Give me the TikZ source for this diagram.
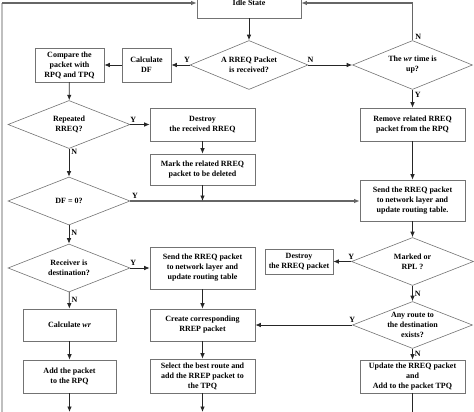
\documentclass[tikz,border=0pt]{standalone}
\usepackage{fontspec}
\setmainfont{Liberation Serif}
\usetikzlibrary{arrows.meta,shapes.geometric}

\begin{document}
\begin{tikzpicture}[x=1pt,y=-1pt,>={Latex[length=5.5pt,width=4.5pt]},
  every node/.style={font=\bfseries\fontsize{8}{10}\selectfont,align=center},
  box/.style={draw=black!55,line width=0.6pt,inner sep=1pt,minimum width=105pt,minimum height=33pt},
  dec/.style={draw=black!55,line width=0.6pt,diamond,inner sep=0pt,minimum width=122pt,minimum height=48pt},
  arr/.style={->,line width=0.8pt,black!85},
  feed/.style={line width=1.8pt,black!60},
  yn/.style={inner sep=2pt,text=black}]
  \useasboundingbox (0,0) rectangle (474,412);
  % left column
  \node[box,minimum width=69pt,minimum height=34pt] (comp) at (69.5,65) {Compare the\\packet with\\RPQ and TPQ};
  \node[dec] (rep) at (69,124.5) {};
  \node (rept) at (rep) {Repeated\\RREQ?};
  \node[dec] (dfz) at (69,201) {};
  \node (dfzt) at (dfz) {DF = 0?};
  \node[dec] (recv) at (69,268) {};
  \node (recvt) at (recv) {Receiver is\\destination?};
  \node[box,minimum width=93pt,minimum height=32pt] (calcwr) at (69.5,325) {Calculate \textit{wr}};
  \node[box,minimum width=93pt,minimum height=33pt] (addrpq) at (69.5,376.5) {Add the packet\\to the RPQ};
  % middle column
  \node[box,minimum width=104pt,minimum height=30pt] (idle) at (249,3) {Idle State};
  \node[dec,minimum width=118pt,minimum height=49pt] (dec1) at (249,65) {};
  \node (dec1t) at (dec1) {A RREQ Packet\\is received?};
  \node[box,minimum width=49pt,minimum height=34pt] (calcdf) at (146.5,65) {Calculate\\DF};
  \node[box] (destr) at (202.5,124.5) {Destroy\\the received RREQ};
  \node[box,minimum height=31pt] (mark) at (202.5,169.5) {Mark the related RREQ\\packet to be deleted};
  \node[box,minimum height=42pt] (sendl) at (202.5,268) {Send the RREQ packet\\to network layer and\\update routing table};
  \node[box,minimum height=32pt] (create) at (202.5,325) {Create corresponding\\RREP packet};
  \node[box,minimum height=34pt] (select) at (202.5,376) {Select the best route and\\add the RREP packet to\\the TPQ};
  % right column
  \node[dec,minimum width=120pt,minimum height=49pt] (dec2) at (412.5,65) {};
  \node (dec2t) at (dec2) {The \textit{wr} time is\\up?};
  \node[box] (remove) at (412.5,124.5) {Remove related RREQ\\packet from the RPQ};
  \node[box,minimum height=41pt] (sendr) at (412.5,200.5) {Send the RREQ packet\\to network layer and\\update routing table.};
  \node[dec] (mrk) at (412.5,261.5) {};
  \node (mrkt) at (mrk) {Marked or\\RPL ?};
  \node[box,minimum width=68pt,minimum height=25pt] (destq) at (299,261.5) {Destroy\\the RREQ packet};
  \node[dec,minimum width=120pt,minimum height=47pt] (route) at (412.5,325) {};
  \node (routet) at (route) {Any route to\\the destination\\exists?};
  \node[box] (upd) at (412.5,376.5) {Update the RREQ packet\\and\\Add to the packet TPQ};
  \coordinate (lbot) at (2,412);
  \coordinate (ltop) at (2,3);
  % loops back to idle
  \draw[line width=1.5pt,black!25] (lbot) -- (ltop);
  \draw[feed,->] (ltop) -- (idle);
  \draw[feed,->] (dec2) |- node[yn,pos=0.05,right]{N} (idle);
  % connectors
  \path (idle) edge[arr] (dec1);
  \path (dec1) edge[arr] node[yn,pos=0.15,above]{Y} (calcdf);
  \path (dec1) edge[arr] node[yn,pos=0.05,above]{N} (dec2);
  \path (calcdf) edge[arr] (comp);
  \path (comp) edge[arr] (rep);
  \path (rep) edge[arr] node[yn,pos=0.15,above]{Y} (destr);
  \path (rep) edge[arr] node[yn,pos=0.1,right]{N} (dfz);
  \path (destr) edge[arr] (mark);
  \path (dec2) edge[arr] node[yn,pos=0.3,right]{Y} (remove);
  \path (remove) edge[arr] (sendr);
  \draw[feed,->] (dfz) -- node[yn,pos=0.02,above]{Y} (dfz -| sendr.west);
  \draw[arr] (mark) -- (mark |- dfz);
  \path (dfz) edge[arr] node[yn,pos=0.4,right]{N} (recv);
  \path (recv) edge[arr] node[yn,pos=0.15,above]{Y} (sendl);
  \path (recv) edge[arr] node[yn,pos=0.45,right]{N} (calcwr);
  \path (calcwr) edge[arr] (addrpq);
  \path (sendl) edge[arr] (create);
  \path (create) edge[arr] (select);
  \path (sendr) edge[arr] (mrk);
  \path (mrk) edge[arr] node[yn,pos=0,above]{Y} (destq);
  \path (mrk) edge[arr] node[yn,pos=0.5,right]{N} (route);
  \path (route) edge[arr] node[yn,pos=0,above]{Y} (create);
  \path (route) edge[arr] node[yn,pos=0.5,right]{N} (upd);
  \draw[arr] (addrpq) -- (addrpq |- lbot);
  \draw[arr] (select) -- (select |- lbot);
  \draw[line width=0.8pt,black!85] (upd) -- (upd |- lbot);
\end{tikzpicture}
\end{document}
